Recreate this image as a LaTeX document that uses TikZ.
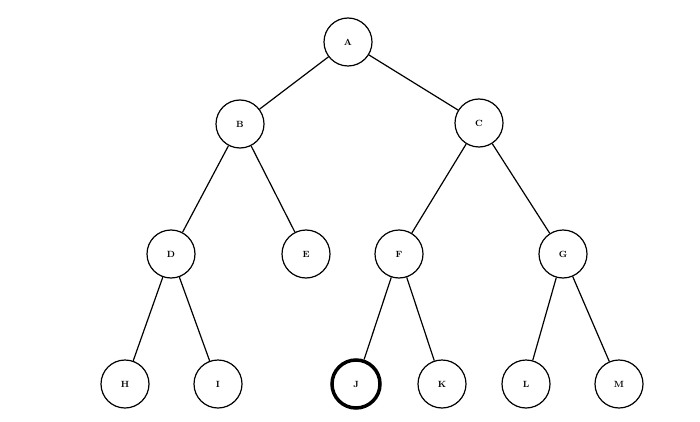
\documentclass[tikz,border=0pt]{standalone}
\begin{document}
\begin{tikzpicture}[x=1pt,y=-1pt,
  tn/.style={circle,draw,line width=1.2pt,minimum size=48pt,inner sep=0pt,font=\bfseries\small},
  ed/.style={line width=1.2pt}]
\useasboundingbox (0,0) rectangle (700,422);
\node[tn] (A) at (348,42) {A};
\node[tn] (B) at (240,124) {B};
\node[tn] (C) at (479,123) {C};
\node[tn] (D) at (171,254) {D};
\node[tn] (E) at (306,254) {E};
\node[tn] (F) at (399,254) {F};
\node[tn] (G) at (563,254) {G};
\node[tn] (H) at (125,384) {H};
\node[tn] (I) at (218,384) {I};
\node[tn,line width=3.5pt] (J) at (356,384) {J};
\node[tn] (K) at (442,384) {K};
\node[tn] (L) at (526,384) {L};
\node[tn] (M) at (619,384) {M};
\foreach \a/\b in {A/B,A/C,B/D,B/E,C/F,C/G,D/H,D/I,F/J,F/K,G/L,G/M}
  \draw[ed] (\a) -- (\b);
\end{tikzpicture}
\end{document}
